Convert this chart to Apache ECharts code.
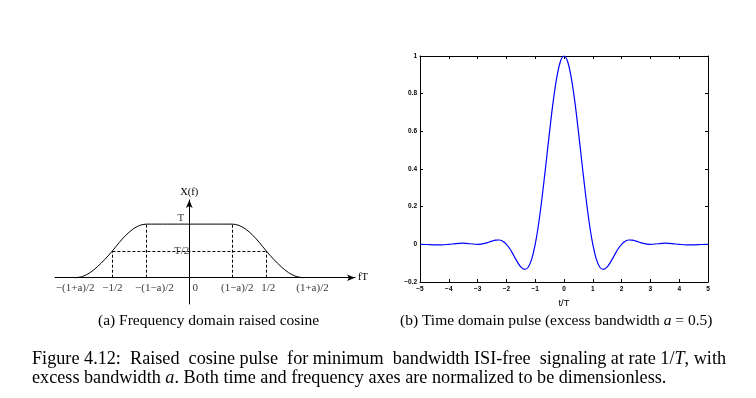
<!DOCTYPE html>
<html>
<head>
<meta charset="utf-8">
<script src="https://cdn.jsdelivr.net/npm/echarts@6/dist/echarts.min.js"></script>
<style>
  html, body { margin: 0; padding: 0; background: #fff; }
  #main { width: 756px; height: 398px; }
</style>
</head>
<body>
<div id="main"></div>
<script>
// (a) raised cosine spectrum, fT on x, X(f)/T on y
const specF = [-0.742, -0.694, -0.645, -0.597, -0.548, -0.5, -0.456, -0.412, -0.367, -0.323, -0.279, -0.14, 0,
               0.14, 0.279, 0.323, 0.367, 0.412, 0.456, 0.5, 0.548, 0.597, 0.645, 0.694, 0.742];
const specX = [0, 0.024, 0.095, 0.206, 0.345, 0.5, 0.655, 0.794, 0.905, 0.976, 1, 1, 1,
               1, 1, 0.976, 0.905, 0.794, 0.655, 0.5, 0.345, 0.206, 0.095, 0.024, 0];
const specTickVals = [-0.742, -0.5, -0.279, 0, 0.279, 0.5, 0.742];
const specTickText = ['−(1+a)/2', '−1/2', '−(1−a)/2', '0', '(1−a)/2', '1/2', '(1+a)/2'];
const specLevelVals = [0.5, 1];
const specLevelText = ['T/2', 'T'];

// (b) time domain pulse, a = 0.5
const pulseT = [-5, -4.75, -4.5, -4.25, -4, -3.75, -3.5, -3.25, -3, -2.75, -2.5, -2.375, -2.25, -2.125, -2,
                -1.875, -1.75, -1.625, -1.5, -1.375, -1.25, -1.125, -1, -0.875, -0.75, -0.625, -0.5, -0.375,
                -0.25, -0.125, 0, 0.125, 0.25, 0.375, 0.5, 0.625, 0.75, 0.875, 1, 1.125, 1.25, 1.375, 1.5,
                1.625, 1.75, 1.875, 2, 2.125, 2.25, 2.375, 2.5, 2.75, 3, 3.25, 3.5, 3.75, 4, 4.25, 4.5, 4.75, 5];
const pulseP = [0, -0.001, -0.003, -0.003, 0, 0.004, 0.006, 0.003, 0, 0.005, 0.017, 0.022, 0.023, 0.016, 0,
                -0.025, -0.058, -0.092, -0.12, -0.133, -0.123, -0.08, 0, 0.116, 0.263, 0.429, 0.6, 0.759,
                0.887, 0.971, 1, 0.971, 0.887, 0.759, 0.6, 0.429, 0.263, 0.116, 0, -0.08, -0.123, -0.133, -0.12,
                -0.092, -0.058, -0.025, 0, 0.016, 0.023, 0.022, 0.017, 0.005, 0, 0.003, 0.006, 0.004, 0, -0.003,
                -0.003, -0.001, 0];

// label nudges (px) for the hand-drawn tick texts of (a)
const tickShift = [0, 0, 8, 6, 5, 2, 9];

const serif = '"Liberation Serif", "DejaVu Serif", serif';
const sans = '"Liberation Sans", Arial, sans-serif';

const specData = specF.map((f, i) => [f, specX[i]]);
const pulseData = pulseT.map((t, i) => [t, pulseP[i]]);

// dashed guides: verticals at ±(1-a)/2 and ±1/2, horizontal at T/2
const guides = [];
[1, 2, 4, 5].forEach(function (k) {
    const f = specTickVals[k];
    const lvl = Math.abs(f) === 0.5 ? specLevelVals[0] : specLevelVals[1];
    guides.push([{ coord: [f, 0] }, { coord: [f, lvl] }]);
});
guides.push([{ coord: [specTickVals[1], specLevelVals[0]] }, { coord: [specTickVals[5], specLevelVals[0]] }]);

const tickLabels = specTickVals.map((v, i) => ({
    value: [v, 0],
    label: { offset: [tickShift[i], 0] }
}));
const levelLabels = specLevelVals.map((v, i) => ({
    value: [0, v],
    label: v === 1 ? { distance: 5, offset: [0, -6] } : { distance: 0 }
}));

const boxAxis = { lineStyle: { color: '#000', width: 1 }, onZero: false };
const boxLabel = { fontFamily: sans, fontSize: 6.5, fontWeight: 'bold', color: '#000' };
const minus = v => String(Math.round(v * 10) / 10).replace('-', '−');
const serifLabel = { fontFamily: serif, fontSize: 11, color: '#000' };

const option = {
    animation: false,
    backgroundColor: '#fff',
    grid: [
        { left: 55, top: 200, width: 300, height: 104 },
        { left: 420, top: 56, width: 288, height: 226 }
    ],
    xAxis: [
        {
            gridIndex: 0, type: 'value', min: -0.873, max: 1.077,
            name: 'fT', nameLocation: 'end', nameGap: 3,
            nameTextStyle: { fontFamily: serif, fontSize: 10.5, color: '#000' },
            axisLine: { onZero: true, symbol: ['none', 'arrow'], symbolSize: [5, 8], lineStyle: { color: '#000', width: 1 } },
            axisTick: { show: false },
            splitLine: { show: false },
            axisLabel: { show: false }
        },
        {
            gridIndex: 1, type: 'value', min: -5, max: 5, interval: 1,
            name: 't/T', nameLocation: 'middle', nameGap: 12,
            nameTextStyle: { fontFamily: sans, fontSize: 9.5, color: '#000' },
            axisLine: boxAxis,
            axisTick: { inside: true, length: 3, lineStyle: { color: '#000' } },
            splitLine: { show: false },
            axisLabel: Object.assign({ margin: 4, formatter: minus }, boxLabel)
        },
        {
            gridIndex: 1, type: 'value', min: -5, max: 5, interval: 1, position: 'top',
            axisLine: boxAxis,
            axisTick: { inside: true, length: 3, lineStyle: { color: '#000' } },
            splitLine: { show: false },
            axisLabel: { show: false }
        }
    ],
    yAxis: [
        {
            gridIndex: 0, type: 'value', min: -0.49, max: 1.45,
            name: 'X(f)', nameLocation: 'end', nameGap: 2,
            nameTextStyle: { fontFamily: serif, fontSize: 10.5, color: '#000' },
            axisLine: { onZero: true, symbol: ['none', 'arrow'], symbolSize: [5, 8], lineStyle: { color: '#000', width: 1 } },
            axisTick: { show: false },
            splitLine: { show: false },
            axisLabel: { show: false }
        },
        {
            gridIndex: 1, type: 'value', min: -0.2, max: 1, interval: 0.2,
            axisLine: boxAxis,
            axisTick: { inside: true, length: 3, lineStyle: { color: '#000' } },
            splitLine: { show: false },
            axisLabel: Object.assign({ margin: 3, formatter: minus }, boxLabel)
        },
        {
            gridIndex: 1, type: 'value', min: -0.2, max: 1, interval: 0.2, position: 'right',
            axisLine: boxAxis,
            axisTick: { inside: true, length: 3, lineStyle: { color: '#000' } },
            splitLine: { show: false },
            axisLabel: { show: false }
        }
    ],
    series: [
        {
            name: 'spectrum', type: 'line', xAxisIndex: 0, yAxisIndex: 0,
            data: specData, smooth: 0.3, showSymbol: false,
            lineStyle: { color: '#000', width: 1 },
            markLine: {
                silent: true, symbol: 'none', label: { show: false },
                lineStyle: { color: '#000', width: 1, type: [3, 2] },
                data: guides
            }
        },
        {
            name: 'freq ticks', type: 'scatter', xAxisIndex: 0, yAxisIndex: 0,
            symbolSize: 0, silent: true, data: tickLabels,
            label: Object.assign({
                show: true, position: 'bottom', distance: 5,
                formatter: p => specTickText[p.dataIndex]
            }, serifLabel)
        },
        {
            name: 'levels', type: 'scatter', xAxisIndex: 0, yAxisIndex: 0,
            symbolSize: 0, silent: true, data: levelLabels,
            label: Object.assign({
                show: true, position: 'left',
                formatter: p => specLevelText[p.dataIndex]
            }, serifLabel)
        },
        {
            name: 'pulse', type: 'line', xAxisIndex: 1, yAxisIndex: 1,
            data: pulseData, smooth: 0.3, showSymbol: false,
            lineStyle: { color: '#0000ff', width: 1.2 }
        }
    ],
    graphic: [
        {
            type: 'text', left: 98, top: 313,
            style: { text: '(a) Frequency domain raised cosine', font: '15.5px ' + serif, fill: '#000' }
        },
        {
            type: 'text', left: 400, top: 313,
            style: {
                text: '(b) Time domain pulse (excess bandwidth {i|a} = 0.5)', font: '15.5px ' + serif, fill: '#000',
                rich: { i: { fontFamily: serif, fontSize: 15.5, fontStyle: 'italic' } }
            }
        },
        {
            type: 'text', left: 32, top: 350,
            style: {
                text: 'Figure 4.12:  Raised  cosine pulse  for minimum  bandwidth ISI-free  signaling at rate 1/{i|T}, with',
                font: '18.2px ' + serif, fill: '#000',
                rich: { i: { fontFamily: serif, fontSize: 18.2, fontStyle: 'italic' } }
            }
        },
        {
            type: 'text', left: 32, top: 369,
            style: {
                text: 'excess bandwidth {i|a}. Both time and frequency axes are normalized to be dimensionless.',
                font: '18.2px ' + serif, fill: '#000',
                rich: { i: { fontFamily: serif, fontSize: 18.2, fontStyle: 'italic' } }
            }
        }
    ]
};

const chart = echarts.init(document.getElementById('main'));
chart.setOption(option);
window.addEventListener('resize', function () {
    chart.resize();
});
</script>
</body>
</html>
